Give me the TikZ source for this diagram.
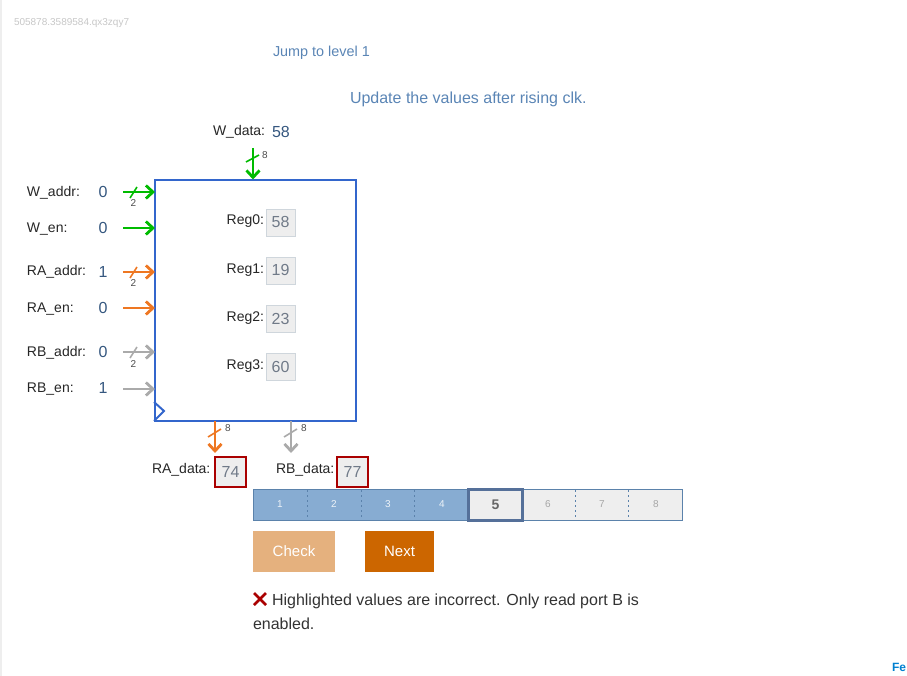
\documentclass[tikz,border=0pt]{standalone}
\usepackage{fontspec}
\setmainfont{Liberation Sans}
\usetikzlibrary{arrows.meta}
\definecolor{wgreen}{HTML}{00BB00}
\definecolor{raorange}{HTML}{EE7722}
\definecolor{rbgray}{HTML}{AAAAAA}
\definecolor{blockblue}{HTML}{3366CC}
\definecolor{linkblue}{HTML}{5A85B5}
\definecolor{valblue}{HTML}{35577F}
\definecolor{regval}{HTML}{707A88}
\definecolor{stepblue}{HTML}{87ACD2}
\definecolor{stepedge}{HTML}{5B82AB}
\definecolor{stepcur}{HTML}{557099}
\definecolor{boxgray}{HTML}{EEEEEE}
\definecolor{boxedge}{HTML}{CFD6DC}
\definecolor{badred}{HTML}{AA0000}
\definecolor{checkfill}{HTML}{E5B17E}
\definecolor{nextfill}{HTML}{CC6600}
\definecolor{feblue}{HTML}{0080D0}
\tikzset{
fs/.style={font=\fontsize{#1}{#1}\selectfont},
txt/.style={inner sep=0pt,outer sep=0pt,anchor=base west,text=black!85,fs=14},
val/.style={inner sep=0pt,outer sep=0pt,anchor=base,text=valblue,fs=16},
small/.style={inner sep=0pt,outer sep=0pt,anchor=base,text=black!70,fs=10},
bus/.style={line width=2.8pt,-{Straight Barb[length=7pt,width=13pt,line width=2.8pt]}},
slash/.style={line width=1.6pt},
regbox/.style={draw=boxedge,fill=boxgray,line width=1pt,minimum width=29pt,minimum height=27pt,inner sep=0pt},
outbox/.style={draw=badred,fill=boxgray,line width=2.6pt,minimum width=31pt,minimum height=30pt,inner sep=0pt},
stepbox/.style={inner sep=0pt,anchor=center,fs=10},
button/.style={inner sep=0pt,text=white,fs=15,minimum height=41pt}
}
\begin{document}
\begin{tikzpicture}[x=1pt,y=-1pt]
\useasboundingbox (0,0) rectangle (907,676);
\fill[boxgray] (0,0) rectangle (2,676);
\node[txt,text=black!22,fs=10] (sessionid) at (14,26) {505878.3589584.qx3zqy7};
\node[txt,text=linkblue,fs=14.4] (jump) at (273,57) {Jump to level 1};
\node[txt,text=linkblue,fs=16] (title) at (350,103.5) {Update the values after rising clk.};
% register block
\node[draw=blockblue,line width=2pt,fill=white,minimum width=201pt,minimum height=241pt,inner sep=0pt] (regfile) at (255,300.5) {};
\draw[draw=blockblue,line width=2pt] (154,402) -- (164,411) -- (154,421);
% input ports
\foreach \name/\lab/\num/\y/\ty/\col in {waddr/W\_addr/0/192/197/wgreen,wen/W\_en/0/228/233/wgreen,raaddr/RA\_addr/1/272/276/raorange,raen/RA\_en/0/308/312/raorange,rbaddr/RB\_addr/0/352/356/rbgray,rben/RB\_en/1/389/392/rbgray}{
\node[txt] (\name) at (27,\ty) {\lab:};
\node[val] (\name val) at (103,\ty+1) {\num};
\coordinate (\name from) at (123,\y);
\coordinate (\name to) at (155,\y);
\draw[bus,\col] (\name from) -- (\name to);
}
\foreach \name/\y/\col in {waddr/192/wgreen,raaddr/272/raorange,rbaddr/352/rbgray}{
\draw[slash,\col] (130,\y+6) -- (137,\y-5);
\node[small] (\name width) at (133.5,\y+15) {2};
}
% write data
\node[txt] (wdata) at (213,136) {W\_data:};
\node[val,anchor=base west] (wdataval) at (272,138) {58};
\coordinate (wdatafrom) at (253,148);
\coordinate (wdatato) at (253,179.5);
\draw[bus,wgreen] (wdatafrom) -- (wdatato);
\draw[slash,wgreen] (246,162) -- (259,155);
\node[small] (wdatawidth) at (265,159) {8};
% registers
\foreach \i/\y/\num in {0/223/58,1/271/19,2/319/23,3/367/60}{
\node[txt,anchor=base east] (reg\i) at (264,\y+2) {Reg\i:};
\node[regbox] (reg\i box) at (281,\y) {};
\node[val,text=regval] (reg\i val) at (280.5,\y+5) {\num};
}
% read data
\foreach \name/\lab/\x/\tx/\num/\bx/\col in {ra/RA/215/152/74/230.5/raorange,rb/RB/291/276/77/352.5/rbgray}{
\coordinate (\name from) at (\x,421);
\coordinate (\name to) at (\x,453);
\draw[bus,\col] (\name from) -- (\name to);
\draw[slash,\col] (\x-7,437) -- (\x+6,429);
\node[small] (\name width) at (\x+13,431) {8};
\node[txt] (\name data) at (\tx,473) {\lab\_data:};
\node[outbox] (\name box) at (\bx,472) {};
\node[val,text=regval] (\name val) at (\bx,477) {\num};
}
% progress bar
\fill[stepblue] (253,489.5) rectangle (467,520.5);
\fill[boxgray] (467,489.5) rectangle (682.5,520.5);
\draw[stepedge,line width=.8pt] (253,489.5) rectangle (682.5,520.5);
\foreach \x in {307.5,361.5,414.5,575.5,628.5}{
\draw[stepedge,line width=.9pt,dash pattern=on 2pt off 3pt] (\x,490) -- (\x,520);
}
\foreach \i/\x in {1/280,2/334,3/388,4/442}{
\node[stepbox,text=white!85!stepblue] (step\i) at (\x,504.5) {\i};
}
\foreach \i/\x in {6/548,7/602,8/656}{
\node[stepbox,text=black!35] (step\i) at (\x,504.5) {\i};
}
\node[draw=stepcur,fill=boxgray,line width=3.2pt,minimum width=54pt,minimum height=31pt,inner sep=0pt,text=black!60,fs=14] (step5) at (495.5,505) {\textbf{5}};
% buttons
\node[button,fill=checkfill,minimum width=82pt] (check) at (294,551.5) {Check};
\node[button,fill=nextfill,minimum width=69pt] (next) at (399.5,551.5) {Next};
% feedback
\draw[badred,line width=2.5pt] (254,593) -- (266,605) (266,593) -- (254,605);
\node[txt,fs=16,text=black!80] (msg) at (272,605) {Highlighted values are incorrect. Only read port B is};
\node[txt,fs=16,text=black!80] (msgb) at (253,629) {enabled.};
\node[txt,fs=12,text=feblue] (fe) at (892,671) {\textbf{Fe}};
\end{tikzpicture}
\end{document}
